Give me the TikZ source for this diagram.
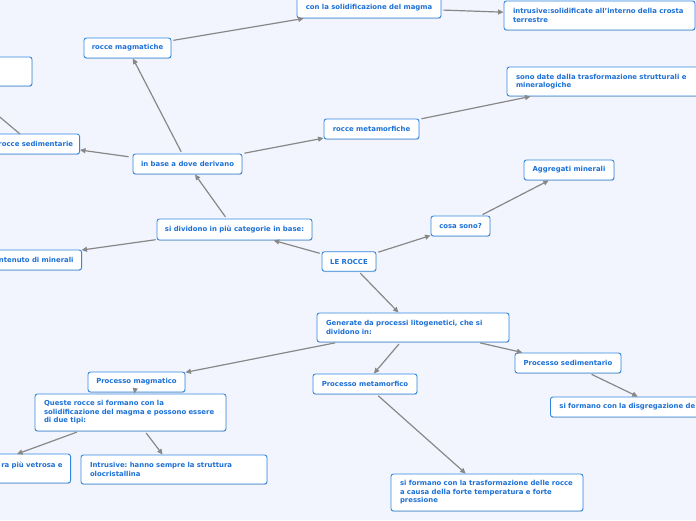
\documentclass[tikz,border=0pt]{standalone}
\usepackage{fontspec}
\setmainfont{DejaVu Sans}
\usetikzlibrary{arrows.meta,shadows}
\definecolor{bgcol}{RGB}{242,245,253}
\definecolor{bordercol}{RGB}{50,135,225}
\definecolor{textcol}{RGB}{28,112,214}
\definecolor{arrowgray}{RGB}{136,136,136}
\tikzset{
  box/.style={draw=bordercol, fill=white, rounded corners=2.5pt, line width=0.9pt,
    text=textcol, font=\fontsize{6.9}{8.5}\selectfont\bfseries\frenchspacing, inner sep=0pt,
    drop shadow={shadow xshift=0.4pt, shadow yshift=-0.9pt, opacity=0.25, fill=black!60}},
  mbox/.style={box, align=left, inner xsep=9pt},
  conn/.style={draw=arrowgray, line width=1.2pt, -{Triangle[length=5.5pt,width=5pt]}, shorten <=2pt},
  plain/.style={draw=arrowgray, line width=1.2pt}
}
\begin{document}
\begin{tikzpicture}[x=1pt,y=-1pt]
\useasboundingbox (0,0) rectangle (696,520);
\fill[bgcol] (0,0) rectangle (696,520);
\clip (0,0) rectangle (696,520);

% nodes
\node[box, minimum width=192pt, minimum height=29pt] (tl) at (-64,71.5) {};
\node[box, minimum width=87pt, minimum height=20pt] (mag) at (127.5,48) {rocce magmatiche};
\node[box, minimum width=144pt, minimum height=21pt] (solid) at (369,7.5) {con la solidificazione del magma};
\node[mbox, text width=173pt, minimum height=29pt] (intr) at (599.5,15.5) {\mbox{intrusive:solidificate all'interno della crosta}\\terrestre};
\node[mbox, text width=175pt, minimum height=29pt] (sono) at (603.5,81.5) {\mbox{sono date dalla trasformazione strutturali e}\\mineralogiche};
\node[box, minimum width=95pt, minimum height=20pt] (meta) at (371.5,129) {rocce metamorfiche};
\node[box, minimum width=90pt, minimum height=20pt] (aggr) at (569,170) {Aggregati minerali};
\node[box, minimum width=59pt, minimum height=20pt] (cosa) at (460.5,226) {cosa sono?};
\node[box, minimum width=54pt, minimum height=19.5pt] (rocce) at (349,261.5) {LE ROCCE};
\node[mbox, text width=174pt, minimum height=29pt] (gen) at (413,327.5) {\mbox{Generate da processi litogenetici, che si}\\dividono in:};
\node[box, minimum width=155pt, minimum height=21pt] (divid) at (234.5,229.5) {si dividono in più categorie in base:};
\node[box, anchor=east, text width=160pt, align=right, inner xsep=8pt, minimum height=20pt] (miner) at (82,260) {ntenuto di minerali};
\node[box, anchor=east, text width=160pt, align=right, inner xsep=6.5pt, minimum height=20pt] (sedim) at (80,144) {rocce sedimentarie};
\node[box, minimum width=109pt, minimum height=20pt] (inbase) at (187.5,164) {in base a dove derivano};
\node[box, minimum width=97pt, minimum height=20pt] (pmag) at (136.5,382) {Processo magmatico};
\node[mbox, text width=173pt, minimum height=37pt] (queste) at (130.5,412.5) {Queste rocce si formano con la\\\mbox{solidificazione del magma e possono essere}\\di due tipi:};
\node[box, anchor=east, text width=160pt, align=right, inner xsep=8pt, minimum height=29pt] (effus) at (71,468.5) {ra più vetrosa e\\\phantom{x}};
\node[mbox, text width=168pt, minimum height=29pt] (intrus) at (174,469.5) {\mbox{Intrusive: hanno sempre la struttura}\\olocristallina};
\node[box, minimum width=104pt, minimum height=20pt] (pmet) at (365,384) {Processo metamorfico};
\node[box, minimum width=106pt, minimum height=20pt] (psed) at (568,363) {Processo sedimentario};
\node[box, anchor=west, text width=200pt, align=left, inner xsep=9pt, minimum height=20pt] (disgr) at (550,407) {si formano con la disgregazione de};
\node[mbox, text width=174pt, minimum height=37pt] (trasf) at (487,492.5) {\mbox{si formano con la trasformazione delle rocce}\\\mbox{a causa della forte temperatura e forte}\\pressione};

% free-end coordinates
\coordinate (sedtop) at (20,134);
\coordinate (tlbot) at (-37,86);
\coordinate (effustop) at (17,454);
\coordinate (minerr) at (82,250);
\coordinate (sedr) at (80,150);

% connectors
\draw[conn] (rocce) -- (divid);
\draw[conn] (rocce) -- (cosa);
\draw[conn] (rocce) -- (gen);
\draw[conn] (cosa) -- (aggr);
\draw[conn] (divid) -- (inbase);
\draw[conn, shorten >=-0.5pt] (divid.south west) ++(1,-1) -- (minerr);
\draw[conn] (inbase) -- (mag);
\draw[conn] (inbase.west) ++(-2,-7) -- (sedr);
\draw[conn] (inbase) -- (meta);
\draw[conn] (mag) -- (solid);
\draw[conn] (solid) -- (intr);
\draw[conn] (meta) -- (sono);
\draw[plain] (sedtop) -- (tlbot);
\draw[conn] (gen) -- (pmag);
\draw[conn] (gen) -- (pmet);
\draw[conn] (gen) -- (psed);
\draw[conn] (psed) -- (disgr);
\draw[conn] (pmet) -- (trasf);
\draw[conn, shorten <=0pt] (pmag) -- (queste);
\draw[conn] (queste) -- (effustop);
\draw[conn] (queste) -- (intrus);
\end{tikzpicture}
\end{document}
